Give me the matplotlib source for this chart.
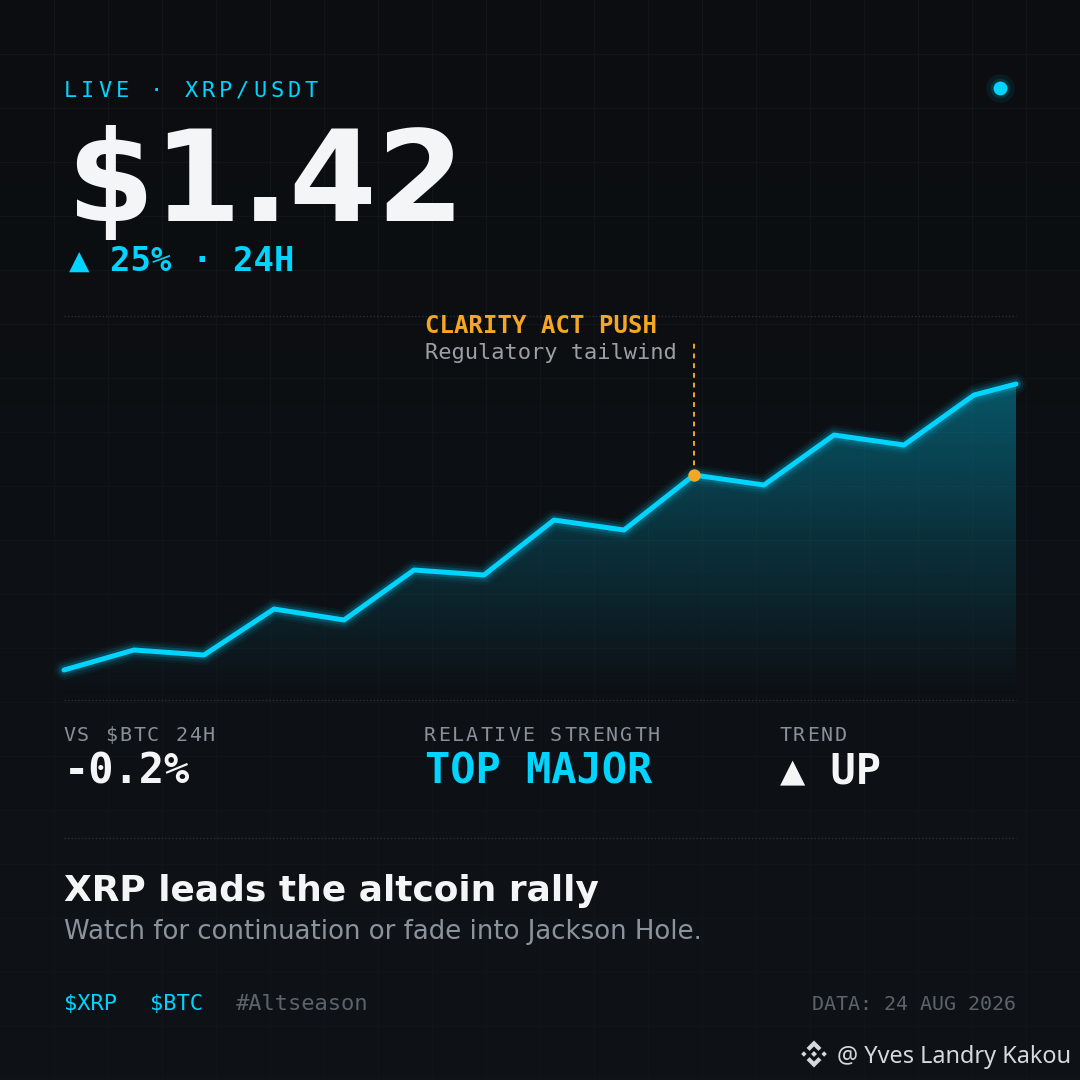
import numpy as np
import matplotlib
matplotlib.use('Agg')
import matplotlib.pyplot as plt
from matplotlib.colors import to_rgb
from matplotlib.patches import Polygon

# ---- data ----
steps = [0, 1, 2, 3, 4, 5, 6, 7, 8, 9, 10, 11, 12, 13, 13.6]
price = [1.136, 1.156, 1.151, 1.197, 1.186, 1.236, 1.231, 1.286, 1.276,
         1.331, 1.321, 1.371, 1.361, 1.411, 1.422]
event_idx = 9
event_title = 'CLARITY ACT PUSH'
event_note = 'Regulatory tailwind'

pair = 'LIVE · XRP/USDT'
last_price = '$1.42'
change = '▲ 25% · 24H'
stat_labels = ['VS $BTC 24H', 'RELATIVE STRENGTH', 'TREND']
stat_values = ['-0.2%', 'TOP MAJOR', '▲ UP']
headline = 'XRP leads the altcoin rally'
subline = 'Watch for continuation or fade into Jackson Hole.'
tags = ['$XRP', '$BTC', '#Altseason']
stamp = 'DATA: 24 AUG 2026'
author = '@ Yves Landry Kakou'

CYAN = '#00d4ff'
ORANGE = '#f5a623'
WHITE = '#f3f5f7'
GREY = '#8a9099'
DIM = '#5c636b'
MONO = 'DejaVu Sans Mono'
PT = 0.72  # pt per pixel at dpi 100

fig = plt.figure(figsize=(10.8, 10.8), dpi=100)
fig.patch.set_facecolor('#0c0e12')

bg = fig.add_axes([0, 0, 1, 1])
bg.set_xlim(0, 1080)
bg.set_ylim(1080, 0)
bg.axis('off')

# background gradient + faint grid
top, bot = np.array(to_rgb('#0b0d10')), np.array(to_rgb('#0f1318'))
t = np.linspace(0, 1, 256)[:, None, None]
grad = top * (1 - t) + bot * t
bg.imshow(grad, extent=[0, 1080, 1080, 0], aspect='auto', zorder=0)
for g in range(54, 1080, 54):
    bg.axvline(g, color='#121519', lw=0.7, zorder=0.5)
    bg.axhline(g, color='#121519', lw=0.7, zorder=0.5)


def spaced(x, y, s, px, pitch, color, weight='normal'):
    # monospace text with letter spacing: one glyph per cell
    adv = 0.602 * px
    for i, ch in enumerate(s):
        bg.text(x + adv / 2 + i * pitch, y, ch, fontsize=px * PT, family=MONO,
                weight=weight, color=color, ha='center', va='baseline', zorder=3)


# header
spaced(64, 97, pair, 22, 17.2, CYAN)
bg.text(66, 221, last_price, fontsize=126 * PT, family='DejaVu Sans', weight='bold',
        color=WHITE, ha='left', va='baseline', zorder=3)
bg.text(69, 271, change, fontsize=34 * PT, family=MONO, weight='bold',
        color=CYAN, ha='left', va='baseline', zorder=3)

# live dot
bg.scatter([1000], [88], s=420, color=CYAN, alpha=0.08, lw=0, zorder=3)
bg.scatter([1000], [88], s=200, color=CYAN, alpha=0.12, lw=0, zorder=3)
bg.scatter([1000], [88], s=100, color=CYAN, lw=0, zorder=4)

# separators
for yy in (316, 700, 838):
    bg.plot([64, 1016], [yy, yy], color='#26313a', lw=1.0,
            ls=(0, (1, 1.5)), zorder=2)

# ---- chart ----
ax = fig.add_axes([64 / 1080, 1 - 700 / 1080, 952 / 1080, 384 / 1080])
ax.set_facecolor('none')
ax.axis('off')
ylo, yhi = 1.106, 1.490

c = np.array(to_rgb(CYAN))
tt = np.linspace(0, 1, 256)
rgba = np.zeros((256, 1, 4))
rgba[:, 0, :3] = c
rgba[:, 0, 3] = 0.36 * (1 - tt) ** 1.1
im = ax.imshow(rgba, extent=(steps[0], steps[-1], ylo, max(price)),
               aspect='auto', origin='upper', zorder=1)
poly = ax.fill_between(steps, price, ylo, color='none', lw=0)
im.set_clip_path(poly.get_paths()[0], transform=ax.transData)
ax.set_xlim(steps[0], steps[-1])
ax.set_ylim(ylo, yhi)

for lw, a in ((20, 0.05), (15, 0.09), (10, 0.16)):
    ax.plot(steps, price, color=CYAN, lw=lw * PT, alpha=a,
            solid_joinstyle='round', solid_capstyle='round', clip_on=False, zorder=2)
ax.plot(steps, price, color=CYAN, lw=5 * PT, solid_joinstyle='round',
        solid_capstyle='round', clip_on=False, zorder=3)

ex, ey = steps[event_idx], price[event_idx]
ytop = ylo + 0.93 * (yhi - ylo)
ax.plot([ex, ex], [ey, ytop], color=ORANGE, lw=1.4, ls=(0, (2.5, 2.5)), zorder=3)
ax.scatter([ex], [ey], s=80, color=ORANGE, lw=0, zorder=5, clip_on=False)

bg.text(425, 333, event_title, fontsize=24 * PT, family=MONO, weight='bold',
        color=ORANGE, ha='left', va='baseline', zorder=3)
bg.text(425, 359, event_note, fontsize=22 * PT, family=MONO,
        color='#9aa0a6', ha='left', va='baseline', zorder=3)

# ---- stats row ----
stat_x = [64, 425, 780]
stat_col = [WHITE, CYAN, WHITE]
for xx, lab, val, col in zip(stat_x, stat_labels, stat_values, stat_col):
    spaced(xx - 1, 741, lab, 20, 14, GREY)
    bg.text(xx, 783, val, fontsize=42 * PT, family=MONO, weight='bold',
            color=col, ha='left', va='baseline', zorder=3)

# ---- headline ----
bg.text(64, 901, headline, fontsize=36 * PT, family='DejaVu Sans', weight='bold',
        color=WHITE, ha='left', va='baseline', zorder=3)
bg.text(64, 939, subline, fontsize=26 * PT, family='DejaVu Sans',
        color='#8b939c', ha='left', va='baseline', zorder=3)

# ---- footer ----
tag_x = [64, 150, 236]
tag_col = [CYAN, CYAN, DIM]
for xx, tg, col in zip(tag_x, tags, tag_col):
    bg.text(xx, 1010, tg, fontsize=22 * PT, family=MONO, color=col,
            ha='left', va='baseline', zorder=3)
bg.text(1016, 1010, stamp, fontsize=20 * PT, family=MONO, color=DIM,
        ha='right', va='baseline', zorder=3)

# binance-style mark + author
cx, cy, r = 814, 1054, 13.5
shapes = [
    [(0, -0.22), (0.22, 0), (0, 0.22), (-0.22, 0)],
    [(-0.75, -0.2), (-0.55, 0), (-0.75, 0.2), (-0.95, 0)],
    [(0.75, -0.2), (0.95, 0), (0.75, 0.2), (0.55, 0)],
    [(0, -1), (0.55, -0.45), (0.33, -0.23), (0, -0.56), (-0.33, -0.23), (-0.55, -0.45)],
    [(0, 1), (0.55, 0.45), (0.33, 0.23), (0, 0.56), (-0.33, 0.23), (-0.55, 0.45)],
]
for sh in shapes:
    bg.add_patch(Polygon([(cx + px * r, cy + py * r) for px, py in sh],
                         closed=True, color='#d6d9dc', lw=0, zorder=4))
bg.text(1071, 1063, author, fontsize=23.5 * PT, family='Noto Sans', color='#d6d9dc',
        ha='right', va='baseline', zorder=4)

fig.savefig('out.png', dpi=100, facecolor=fig.get_facecolor())
